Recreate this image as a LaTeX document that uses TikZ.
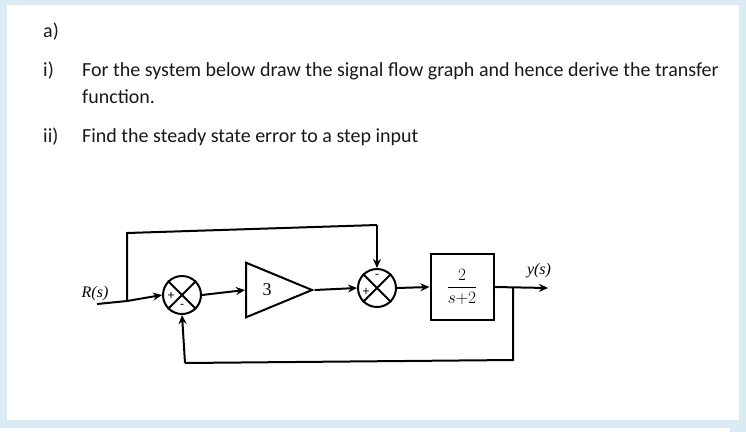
\documentclass[tikz,border=0pt]{standalone}
\usepackage{fontspec}
\setmainfont{Carlito}
\newfontfamily\serif{Liberation Serif}
\usetikzlibrary{arrows.meta,shapes.geometric}
\definecolor{bgblue}{HTML}{DAEBF4}
\begin{document}
\begin{tikzpicture}[x=1pt,y=-1pt,
  txt/.style={anchor=base west,inner sep=0pt,font=\fontsize{20}{24}\selectfont,text=black!90},
  sumj/.style={circle,draw,line width=2pt,minimum size=38pt,inner sep=0pt},
  wire/.style={line width=2pt},
  arr/.style={wire,-{Stealth[length=9pt,width=8pt]}},
  sgn/.style={font=\fontsize{13}{13}\selectfont,inner sep=0pt},
  lbl/.style={font=\serif\itshape\fontsize{16}{16}\selectfont,inner sep=0pt}]
\fill[bgblue] (0,0) rectangle (746,432);
\fill[white] (7,5) rectangle (739,420);
\fill[white] (0,428) rectangle (730,432);
\node[txt] (ta) at (43,37) {a)};
\node[txt] (ti) at (43,76) {i)};
\node[txt] (t1) at (82,76) {For the system below draw the signal flow graph and hence derive the transfer};
\node[txt] (t2) at (82,103) {function.};
\node[txt] (tii) at (43,142) {ii)};
\node[txt] (t3) at (82,142) {Find the steady state error to a step input};
% diagram
\node[lbl] (R) at (95,294) {R(s)};
\coordinate (in) at (97,304);
\coordinate (br) at (127,301);
\node[sumj] (s1) at (182,295) {};
\draw[wire] (s1.45)--(s1.225) (s1.135)--(s1.315);
\node[sgn] at (171,296) {+};
\node[sgn] at (182,306) {-};
\node[draw,isosceles triangle,line width=2pt,minimum height=66pt,minimum width=48pt,inner sep=0pt,anchor=west] (g) at (245,290) {};
\node[font=\serif\fontsize{18}{18}\selectfont] (k) at (267,290) {3};
\node[sumj] (s2) at (377,288) {};
\draw[wire] (s2.45)--(s2.225) (s2.135)--(s2.315);
\node[sgn] at (366,292) {+};
\node[sgn] at (377,276) {-};
\node[draw,line width=2pt,minimum width=63pt,minimum height=66pt,inner sep=0pt,font=\serif\fontsize{18}{18}\selectfont] (G) at (462,287) {$\displaystyle\frac{2}{s{+}2}$};
\coordinate (ob) at (513,288);
\coordinate (out) at (548,288);
\node[lbl] (Y) at (539,271) {y(s)};
\draw[wire] (in)--(br);
\draw[arr] (br)--(s1.west);
\draw[wire] (br)--(127,233)--(377,225);
\draw[arr] (377,225)--(s2.north);
\draw[arr] (s1.east)--(g.west);
\draw[arr] (g.east)--(s2.west);
\draw[arr] (s2.east)--(G.west);
\draw[arr] (G.east)--(out);
\draw[wire] (ob)--(513,360)--(185,363);
\draw[arr] (185,363)--(s1.south);
\end{tikzpicture}
\end{document}
